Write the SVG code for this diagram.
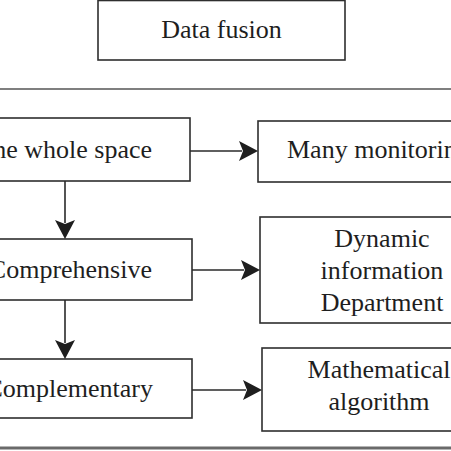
<svg xmlns="http://www.w3.org/2000/svg" width="451" height="451" viewBox="0 0 451 451">
<defs>
<style>
.box{fill:#fff;stroke:#2e2e2e;stroke-width:1.6}
.t{font-family:"Liberation Serif","Times New Roman",serif;font-size:26px;fill:#1e1e1e}
.c{text-anchor:middle}
.e{text-anchor:end}
.ln{stroke:#2a2a2a;stroke-width:1.6;fill:none}
.ah{fill:#1e1e1e}
</style>
</defs>
<rect width="451" height="451" fill="#fff"/>
<g id="rules">
<line x1="0" y1="89" x2="451" y2="89" stroke="#555" stroke-width="1.6"/>
<line x1="0" y1="448" x2="451" y2="448" stroke="#6a6a6a" stroke-width="3"/>
</g>
<g id="n-datafusion">
<rect class="box" x="98" y="0.5" width="247" height="59.5"/>
<text class="t c" x="221.5" y="38">Data fusion</text>
</g>
<g id="n-wholespace">
<rect class="box" x="-60" y="118" width="250" height="63"/>
<text class="t e" x="152" y="158">The whole space</text>
</g>
<g id="n-comprehensive">
<rect class="box" x="-60" y="239" width="252" height="61"/>
<text class="t e" x="152" y="278">Comprehensive</text>
</g>
<g id="n-complementary">
<rect class="box" x="-60" y="359" width="252" height="59"/>
<text class="t e" x="153" y="397">Complementary</text>
</g>
<g id="n-monitoring">
<rect class="box" x="258" y="121" width="250" height="61"/>
<text class="t" x="287" y="158">Many monitoring</text>
</g>
<g id="n-dynamic">
<rect class="box" x="260" y="217" width="250" height="106"/>
<text class="t c" x="382" y="247">Dynamic</text>
<text class="t c" x="382" y="279">information</text>
<text class="t c" x="382" y="311">Department</text>
</g>
<g id="n-math">
<rect class="box" x="262" y="348" width="250" height="83"/>
<text class="t c" x="379" y="378">Mathematical</text>
<text class="t c" x="379" y="410">algorithm</text>
</g>
<g id="connectors">
<line class="ln" x1="190" y1="151" x2="242" y2="151"/>
<polygon class="ah" points="258,151 239,141 243,151 239,161"/>
<line class="ln" x1="192" y1="270" x2="244" y2="270"/>
<polygon class="ah" points="260,270 241,260 245,270 241,280"/>
<line class="ln" x1="192" y1="390" x2="246" y2="390"/>
<polygon class="ah" points="262,390 243,380 247,390 243,400"/>
<line class="ln" x1="65" y1="181" x2="65" y2="223"/>
<polygon class="ah" points="65,239 55,220 65,224 75,220"/>
<line class="ln" x1="65" y1="300" x2="65" y2="343"/>
<polygon class="ah" points="65,359 55,340 65,344 75,340"/>
</g>
</svg>
